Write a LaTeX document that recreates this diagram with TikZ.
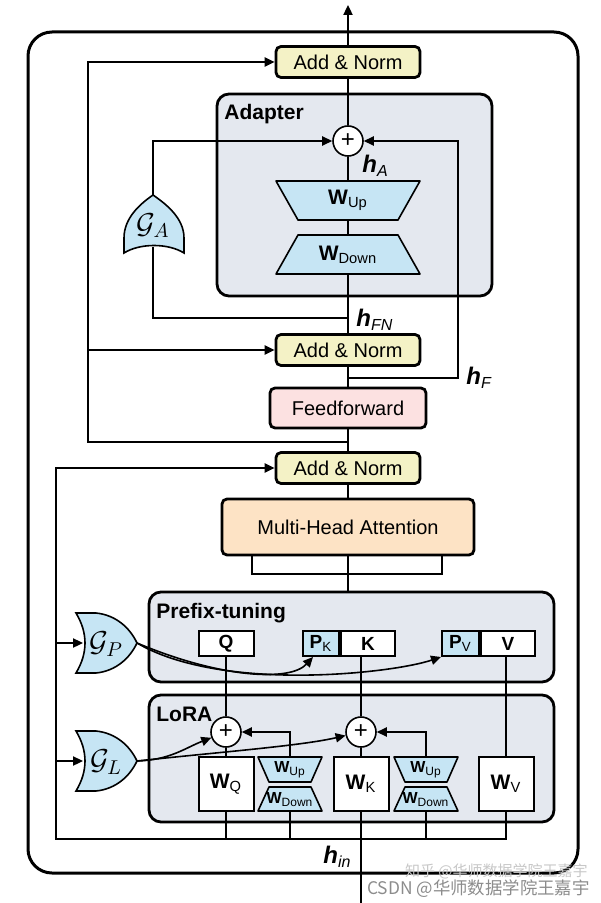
\documentclass[tikz,border=0pt]{standalone}
\usepackage{fontspec}
\setmainfont{Liberation Sans}
\newfontfamily\cjkfont{Noto Sans CJK SC}
\usetikzlibrary{arrows.meta, calc, positioning, shapes.geometric}

\definecolor{normyellow}{HTML}{F4F2C6}
\definecolor{ffpink}{HTML}{FCE1E1}
\definecolor{mhaorange}{HTML}{FDE3C5}
\definecolor{modgray}{HTML}{E4E8EF}
\definecolor{paramblue}{HTML}{C6E5F4}

\newcommand{\matw}[1]{\textbf{W}\textsubscript{#1}}
\newcommand{\prefp}[1]{\textbf{P}\textsubscript{#1}}
\newcommand{\hvec}[1]{\textbf{\textit{h}}\textsubscript{\textit{#1}}}

\begin{document}
\begin{tikzpicture}[x=0.5pt, y=-0.5pt,
  frame/.style={draw, line width=1.5pt, rounded corners=12pt, minimum width=275pt, minimum height=420.5pt},
  module/.style={draw, line width=1.4pt, rounded corners=6pt, fill=modgray},
  modlabel/.style={font=\bfseries\fontsize{10.5}{12}\selectfont, anchor=north west, inner sep=0pt},
  box/.style={draw, line width=1.4pt, rounded corners=2.5pt, inner sep=0pt},
  normbox/.style={box, fill=normyellow, minimum width=72pt, minimum height=15.5pt},
  wire/.style={line width=0.8pt},
  arr/.style={wire, -{Triangle[length=5pt, width=4.6pt]}},
  plus/.style={draw, circle, line width=0.8pt, fill=white, minimum size=15pt, inner sep=0pt, font=\fontsize{12}{12}\selectfont},
  matbox/.style={draw, line width=1pt, fill=white, inner sep=0pt},
  trap/.style={draw, line width=0.8pt, fill=paramblue, line join=round},
  wlabel/.style={inner sep=0pt},
  gate/.style={draw, line width=0.8pt, fill=paramblue},
  glabel/.style={inner sep=0pt, font=\fontsize{14}{16}\selectfont},
  hlabel/.style={inner sep=0pt, font=\fontsize{12}{14}\selectfont}
]
\useasboundingbox (0,0) rectangle (600,903);

% Layer frame
\node[frame] (layer) at (303,452.5) {};

% Modules
\node[module, minimum width=137.5pt, minimum height=101pt] (adapter) at (354.5,195) {};
\node[module, minimum width=202.5pt, minimum height=45pt] (prefix) at (351.5,637) {};
\node[module, minimum width=202.5pt, minimum height=63.5pt] (lora) at (351.5,758.5) {};
\node[modlabel] (adaptername) at (224,104) {Adapter};
\node[modlabel] (prefixname) at (156,603) {Prefix-tuning};
\node[modlabel] (loraname) at (156,707) {LoRA};

% Transformer blocks
\node[normbox] (addtop) at (348,62) {Add \& Norm};
\node[normbox] (addff) at (348,350) {Add \& Norm};
\node[box, fill=ffpink, minimum width=78pt, minimum height=20pt] (ff) at (348,408) {Feedforward};
\node[normbox] (addatt) at (348,468) {Add \& Norm};
\node[box, fill=mhaorange, minimum width=126pt, minimum height=28pt] (mha) at (348,527) {Multi-Head Attention};

% Adapter
\node[plus] (plusA) at (348,141) {+};
\draw[trap] (276,181) -- (420,181) -- (398,220) -- (298,220) -- cycle;
\draw[trap] (298,235) -- (398,235) -- (420,274) -- (276,274) -- cycle;
\node[wlabel, font=\fontsize{10.5}{12}\selectfont] (upA) at (348,200) {\matw{Up}};
\node[wlabel, font=\fontsize{10.5}{12}\selectfont] (downA) at (348,255) {\matw{Down}};
\coordinate (upAtop) at (348,181);
\coordinate (upAbot) at (348,220);
\coordinate (downAtop) at (348,235);
\coordinate (downAbot) at (348,274);

% Gates
\draw[gate] (124,253) -- (124,238) .. controls (124,218) and (140,204) .. (153,195)
  .. controls (166,204) and (184,218) .. (184,238) -- (184,253)
  .. controls (168,243) and (140,243) .. (124,253) -- cycle;
\node[glabel] (GA) at (153,226) {$\mathcal{G}_A$};
\coordinate (gaTop) at (153,195);
\coordinate (gaBot) at (153,247);
\foreach \g/\yc in {P/643, L/761} {
  \draw[gate] (76,\yc-30) .. controls (88,\yc-10) and (88,\yc+10) .. (76,\yc+30) -- (96,\yc+30)
    .. controls (116,\yc+28) and (130,\yc+15) .. (137,\yc)
    .. controls (130,\yc-15) and (116,\yc-28) .. (96,\yc-30) -- cycle;
  \node[glabel] (G\g) at (106,\yc+1) {$\mathcal{G}_\g$};
  \coordinate (g\g In) at (83,\yc);
  \coordinate (g\g Tip) at (137,\yc);
}

% Prefix-tuning
\node[matbox, minimum width=27.5pt, minimum height=12.5pt, font=\bfseries\fontsize{9.5}{11}\selectfont] (Q) at (226,643.5) {Q};
\node[matbox, fill=paramblue, minimum width=18pt, minimum height=12.5pt, font=\fontsize{9.5}{11}\selectfont] (PK) at (321,643.5) {\prefp{K}};
\node[matbox, minimum width=27pt, minimum height=12.5pt, font=\bfseries\fontsize{9.5}{11}\selectfont, right=0pt of PK] (K) {K};
\node[matbox, fill=paramblue, minimum width=18.5pt, minimum height=12.5pt, font=\fontsize{9.5}{11}\selectfont] (PV) at (460.5,643.5) {\prefp{V}};
\node[matbox, minimum width=27pt, minimum height=12.5pt, font=\bfseries\fontsize{9.5}{11}\selectfont, right=0pt of PV] (V) {V};

% LoRA
\node[plus] (plusQ) at (226,732) {+};
\node[plus] (plusK) at (361,732) {+};
\foreach \n/\xc in {Q/226, K/361, V/506}
  \node[matbox, minimum width=27.5pt, minimum height=27pt, font=\fontsize{10.5}{12}\selectfont] (W\n) at (\xc,784) {\matw{\n}};
\foreach \n/\xc in {1/290, 2/426} {
  \draw[trap] (\xc-32,757) -- (\xc+32,757) -- (\xc+21,782) -- (\xc-21,782) -- cycle;
  \draw[trap] (\xc-21,787) -- (\xc+21,787) -- (\xc+32,811) -- (\xc-32,811) -- cycle;
  \node[wlabel, font=\fontsize{8}{9}\selectfont] (upL\n) at (\xc,769.5) {\matw{Up}};
  \node[wlabel, font=\fontsize{8}{9}\selectfont] (downL\n) at (\xc,799.5) {\matw{Down}};
  \coordinate (upTop\n) at (\xc,757);
  \coordinate (downBot\n) at (\xc,811);
}

% Hidden states
\node[hlabel, anchor=west] (hA) at (362,166) {\hvec{A}};
\node[hlabel, anchor=west] (hFN) at (356,320) {\hvec{FN}};
\node[hlabel, anchor=west] (hF) at (466,378) {\hvec{F}};
\node[hlabel, anchor=east] (hin) at (352,857) {\hvec{in}};

% Main column
\coordinate (out) at (348,5);
\coordinate (jFN) at (348,318);
\coordinate (jF) at (348,378);
\coordinate (hFr) at (458,378);
\coordinate (ffOut) at (348,442);
\coordinate (resA) at (88,442);
\draw[arr] (addtop) -- (out);
\draw[wire] (plusA) -- (addtop);
\draw[wire] (upAtop) -- (plusA);
\draw[wire] (downAtop) -- (upAbot);
\draw[wire] (addff) -- (downAbot);
\draw[wire] (ff) -- (addff);
\draw[wire] (addatt) -- (ff);
\draw[wire] (mha) -- (addatt);

% Adapter paths
\draw[wire] (jFN) -| (gaBot);
\draw[arr] (gaTop) |- (plusA.west);
\draw[arr] (jF) -- (hFr) |- (plusA.east);

% Residuals
\draw[arr] (ffOut) -- (resA) |- (addtop.west);
\draw[arr] (resA |- addff.west) -- (addff.west);

% Attention inputs
\coordinate (mhaL) at (252,574);
\coordinate (mhaR) at (442,574);
\draw[wire] (mha.south -| mhaL) -- (mhaL) -- (mhaR) -- (mha.south -| mhaR);
\draw[wire] (mha.south) -- (mha.south |- prefix.north);

% Q, K, V
\draw[wire] (Q) -- (plusQ);
\draw[wire] (plusQ) -- (WQ);
\draw[wire] (K.south -| plusK) -- (plusK);
\draw[wire] (plusK) -- (WK);
\draw[wire] (V.south -| WV) -- (WV);
\draw[arr] (upTop1) |- (plusQ);
\draw[arr] (upTop2) |- (plusK);

% Gate outputs
\draw[arr] (gPTip) .. controls (220,678) and (290,682) .. ([xshift=-4pt]PK.south);
\draw[arr] (gPTip) .. controls (220,692) and (390,674) .. (PV.south west);
\draw[arr] (gLTip) .. controls (170,760) and (185,748) .. (plusQ);
\draw[arr] (gLTip) .. controls (220,752) and (300,746) .. (plusK);

% Input bus
\coordinate (input) at (361,903);
\coordinate (bus) at (361,839);
\coordinate (resB) at (56,839);
\draw[wire] (input) -- (WK);
\draw[arr] (WV) |- (resB) |- (addatt.west);
\draw[wire] (WQ) -- (WQ |- bus);
\draw[wire] (downBot1) -- (downBot1 |- bus);
\draw[wire] (downBot2) -- (downBot2 |- bus);
\draw[arr] (resB |- gPIn) -- (gPIn);
\draw[arr] (resB |- gLIn) -- (gLIn);

% Watermark
\node[inner sep=0pt, text=black!22, font=\cjkfont\fontsize{7.5}{9}\selectfont, anchor=east] (zhihu) at (588,871) {知乎 @华师数据学院王嘉宇};
\node[inner sep=0pt, text=black!45, font=\cjkfont\fontsize{8.7}{10}\selectfont, anchor=east] (csdn) at (590,889) {CSDN @华师数据学院王嘉宇};
\end{tikzpicture}
\end{document}
